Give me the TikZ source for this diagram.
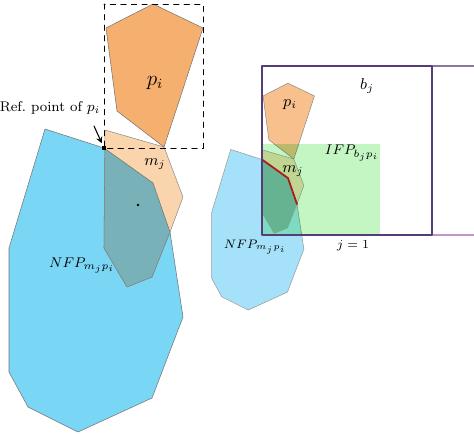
\documentclass[tikz,border=0pt]{standalone}
\definecolor{nfpxanh}{RGB}{122,214,245}
\definecolor{nfpnhat}{RGB}{165,226,250}
\definecolor{mjcam}{RGB}{250,212,172}
\definecolor{picam}{RGB}{245,176,112}
\definecolor{chong}{RGB}{120,178,184}
\definecolor{ifpxanh}{RGB}{196,246,196}
\definecolor{hopmau}{RGB}{85,62,120}
\definecolor{hopnhat}{RGB}{195,150,195}
\definecolor{doando}{RGB}{165,30,30}
\begin{document}
\begin{tikzpicture}[x=0.02cm, y=-0.02cm, >=stealth, font=\small, line join=round, line cap=round]
	\tikzset{
		nfp/.style={fill=nfpxanh, draw=black!55, line width=0.3pt},
		mj/.style={fill=mjcam, draw=black!45, line width=0.3pt},
		pi/.style={fill=picam, draw=black!55, line width=0.3pt}
	}
	\useasboundingbox (0,0) rectangle (474,436);
	%Toa do cac da giac: hinh trai (L) va hinh phai thu nho (R)
	\foreach \k/\s/\dx/\dy in {L/1/0/0, R/0.53/206.88/81.1}{
	\begin{scope}[shift={(\dx,\dy)}, scale=\s]
	\path
	(153,4) coordinate (P1\k) (203,28) coordinate (P2\k) (164,147) coordinate (P3\k)
	(117,111) coordinate (P4\k) (106,28) coordinate (P5\k)
	(105,130) coordinate (M1\k) (164,147) coordinate (M2\k) (183,197) coordinate (M3\k)
	(170,232) coordinate (M4\k) (152,277) coordinate (M5\k) (127,287) coordinate (M6\k)
	(104,248) coordinate (M7\k)
	(45,129) coordinate (N1\k) (104,148) coordinate (N2\k) (153,183) coordinate (N3\k)
	(170,232) coordinate (N4\k) (183,317) coordinate (N5\k) (152,398) coordinate (N6\k)
	(78,432) coordinate (N7\k) (28,407) coordinate (N8\k) (9,372) coordinate (N9\k)
	(9,248) coordinate (N10\k)
	;
	\end{scope}
	}
	%Hinh trai
	\filldraw[nfp] (N1L)--(N2L)--(N3L)--(N4L)--(N5L)--(N6L)--(N7L)--(N8L)--(N9L)--(N10L)--cycle;
	\filldraw[mj] (M1L)--(M2L)--(M3L)--(M4L)--(M5L)--(M6L)--(M7L)--cycle;
	\begin{scope}
	\clip (N1L)--(N2L)--(N3L)--(N4L)--(N5L)--(N6L)--(N7L)--(N8L)--(N9L)--(N10L)--cycle;
	\filldraw[fill=chong, draw=black!50, line width=0.3pt] (M1L)--(M2L)--(M3L)--(M4L)--(M5L)--(M6L)--(M7L)--cycle;
	\end{scope}
	\draw[black!55, line width=0.3pt] (N2L)--(N3L)--(N4L);
	\filldraw[pi] (P1L)--(P2L)--(P3L)--(P4L)--(P5L)--cycle;
	\draw[dashed, line width=0.5pt] (104,4) rectangle (203,148);
	\fill (N2L) +(-1.8,-1.8) rectangle +(1.8,1.8);
	\fill (138,205) circle (1.3);
	\node[font=\large] (piL) at (155,83) {$p_i$};
	\node (mjL) at (155,164) {$m_j$};
	\node[font=\footnotesize] (nfpL) at (82,266) {$NFP_{m_jp_i}$};
	\node[font=\footnotesize] (refL) at (50,108) {Ref.\ point of $p_i$};
	\coordinate (muiten) at (94,126);
	\draw[->, line width=0.6pt, shorten >=3pt] (muiten)--(N2L);
	%Hinh phai
	\draw[hopmau!70, line width=0.6pt] (432,66)--(474,66);
	\draw[hopnhat, line width=0.6pt] (432,235)--(474,235);
	\filldraw[fill=nfpnhat, draw=black!40, line width=0.3pt] (N1R)--(N2R)--(N3R)--(N4R)--(N5R)--(N6R)--(N7R)--(N8R)--(N9R)--(N10R)--cycle;
	\filldraw[fill=mjcam!80, draw=black!35, line width=0.3pt] (M1R)--(M2R)--(M3R)--(M4R)--(M5R)--(M6R)--(M7R)--cycle;
	\begin{scope}
	\clip (N1R)--(N2R)--(N3R)--(N4R)--(N5R)--(N6R)--(N7R)--(N8R)--(N9R)--(N10R)--cycle;
	\fill[chong!90] (M1R)--(M2R)--(M3R)--(M4R)--(M5R)--(M6R)--(M7R)--cycle;
	\end{scope}
	\filldraw[fill=picam!80, draw=black!45, line width=0.3pt] (P1R)--(P2R)--(P3R)--(P4R)--(P5R)--cycle;
	\begin{scope}[blend mode=multiply]
	\fill[ifpxanh] (262,144) rectangle (380,235);
	\end{scope}
	\draw[doando, line width=1pt] (N2R)--(N3R)--(N4R);
	\draw[hopmau, line width=0.8pt] (262,66) rectangle (432,235);
	\node (piR) at (290,105) {$p_i$};
	\node (mjR) at (293,171) {$m_j$};
	\node (bjR) at (367,86) {$b_j$};
	\node[font=\footnotesize] (ifpR) at (352,153) {$IFP_{b_jp_i}$};
	\node[font=\scriptsize] (nfpR) at (255,247) {$NFP_{m_jp_i}$};
	\node[font=\scriptsize] (jR) at (353,246) {$j = 1$};
\end{tikzpicture}
\end{document}
